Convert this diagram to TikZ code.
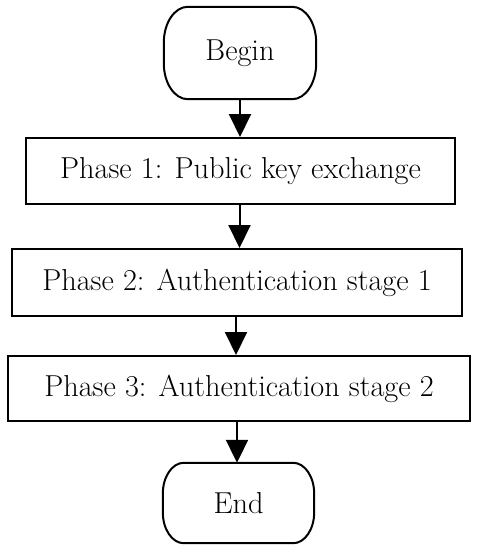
\documentclass[tikz,border=0pt]{standalone}
\usetikzlibrary{arrows.meta}
\newcommand\drawterm[3]{%
  \draw[line width=2pt] ([xshift=#2]#1.north west) -- ([xshift=-#2]#1.north east)
    arc[start angle=90,end angle=0,x radius=#2,y radius=#3]
    -- ([yshift=#3]#1.south east)
    arc[start angle=0,end angle=-90,x radius=#2,y radius=#3]
    -- ([xshift=#2]#1.south west)
    arc[start angle=-90,end angle=-180,x radius=#2,y radius=#3]
    -- ([yshift=-#3]#1.north west)
    arc[start angle=180,end angle=90,x radius=#2,y radius=#3] -- cycle;}
\begin{document}
\begin{tikzpicture}[x=1pt,y=-1pt,
  lbl/.style={font=\fontsize{30.3}{35}\selectfont},
  term/.style={inner sep=0pt,lbl},
  procbox/.style={draw,line width=2pt,inner sep=0pt,lbl},
  flow/.style={line width=2pt,-{Triangle[width=22pt,length=23pt]}}]
\useasboundingbox (0,0) rectangle (478,550);
\node[term,minimum width=152pt,minimum height=92pt] (begin) at (240,53) {Begin};
\node[procbox,minimum width=429pt,minimum height=66pt] (p1) at (240.5,171) {Phase 1: Public key exchange};
\node[procbox,minimum width=450pt,minimum height=67pt] (p2) at (237,282.5) {Phase 2: Authentication stage 1};
\node[procbox,minimum width=462pt,minimum height=65pt] (p3) at (239,388.5) {Phase 3: Authentication stage 2};
\node[term,minimum width=151pt,minimum height=80pt] (end) at (238.5,503) {End};
\drawterm{begin}{24pt}{36pt}
\drawterm{end}{21pt}{31pt}
\draw[flow] (begin.south) -- (begin.south |- p1.north);
\draw[flow] ([xshift=-1pt]p1.south) -- ([xshift=-1pt]p1.south |- p2.north);
\draw[flow] ([xshift=-1pt]p2.south) -- ([xshift=-1pt]p2.south |- p3.north);
\draw[flow] ([xshift=-2pt]p3.south) -- ([xshift=-2pt]p3.south |- end.north);
\end{tikzpicture}
\end{document}
